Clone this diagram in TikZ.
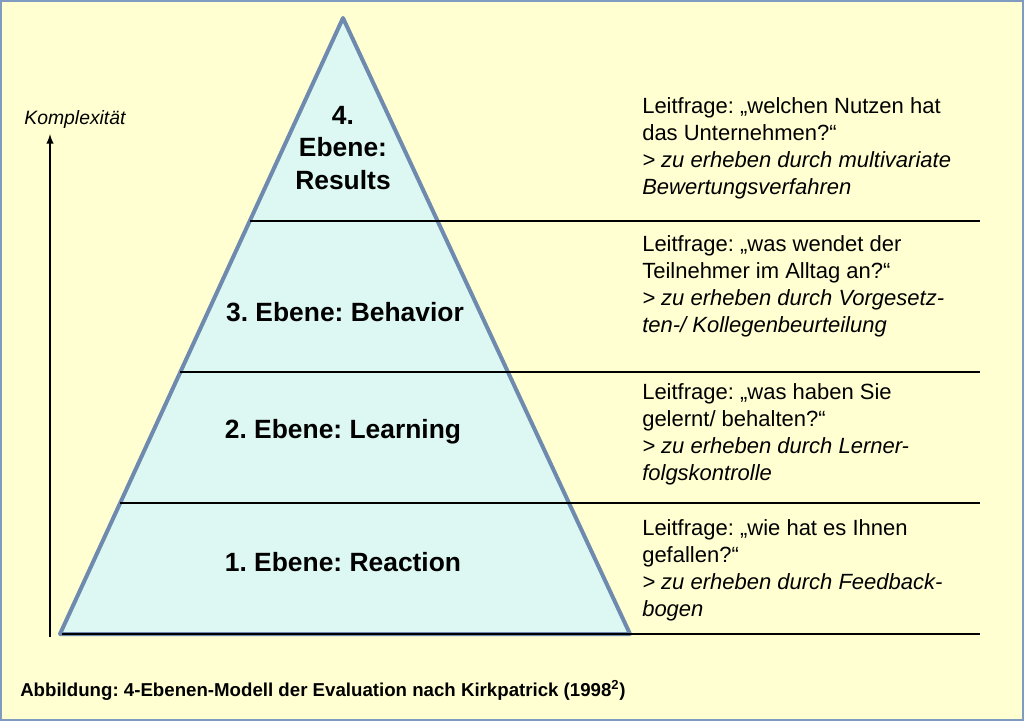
\documentclass[tikz,border=0pt]{standalone}
\usepackage{fontspec}
\setmainfont{Liberation Sans}
\frenchspacing
\definecolor{bg}{HTML}{FFFFD2}
\definecolor{frame}{HTML}{7F9CC0}
\definecolor{pyr}{HTML}{DDF8F2}
\definecolor{pedge}{HTML}{6E8AAE}
\begin{document}
\begin{tikzpicture}[x=0.75pt,y=-0.75pt,
  lvl/.style={font=\fontsize{19.8}{24}\selectfont\bfseries,align=center,inner sep=0},
  info/.style={font=\fontsize{16.5}{20.4}\selectfont,align=left,anchor=north west,inner sep=0},
  sep/.style={black,line width=0.9pt}]
\fill[bg] (0,0) rectangle (1024,721);
\draw[frame,line width=1.5pt] (1,1) rectangle (1023,720);
\useasboundingbox (0,0) rectangle (1024,721);
\draw[pedge,fill=pyr,line width=3pt,line join=round] (343,18) -- (630,634) -- (60,634) -- cycle;
\coordinate (l1) at (250,221); \coordinate (r1) at (980,221);
\coordinate (l2) at (180,372); \coordinate (r2) at (980,372);
\coordinate (l3) at (120,503); \coordinate (r3) at (980,503);
\coordinate (l4) at (62,634); \coordinate (r4) at (980,634);
\draw[sep] (l1) -- (r1); \draw[sep] (l2) -- (r2); \draw[sep] (l3) -- (r3); \draw[sep] (l4) -- (r4);
\node[lvl,font=\fontsize{19.8}{24.5}\selectfont\bfseries] (e4) at (343,148) {4.\\Ebene:\\Results};
\node[lvl] (e3) at (345,312) {3. Ebene: Behavior};
\node[lvl] (e2) at (343,432) {2. Ebene: Learning};
\node[lvl] (e1) at (343,562) {1. Ebene: Reaction};
\node[info] (t4) at (642,97) {Leitfrage: „welchen Nutzen hat\\das Unternehmen?“\\\textit{> zu erheben durch multivariate}\\\textit{Bewertungsverfahren}};
\node[info] (t3) at (642,235) {Leitfrage: „was wendet der\\Teilnehmer im Alltag an?“\\\textit{> zu erheben durch Vorgesetz-}\\\textit{ten-/ Kollegenbeurteilung}};
\node[info] (t2) at (642,383) {Leitfrage: „was haben Sie\\gelernt/ behalten?“\\\textit{> zu erheben durch Lerner-}\\\textit{folgskontrolle}};
\node[info] (t1) at (642,519) {Leitfrage: „wie hat es Ihnen\\gefallen?“\\\textit{> zu erheben durch Feedback-}\\\textit{bogen}};
\coordinate (a0) at (50,637); \coordinate (a1) at (50,134);
\draw[black,line width=1.5pt,-latex] (a0) -- (a1);
\node[font=\fontsize{14.5}{16}\selectfont\itshape,inner sep=0] (k) at (75,119) {Komplexität};
\node[font=\fontsize{14}{16}\selectfont\bfseries,anchor=west,inner sep=0] (cap) at (20,690) {Abbildung: 4-Ebenen-Modell der Evaluation nach Kirkpatrick (1998\textsuperscript{2})};
\end{tikzpicture}
\end{document}
